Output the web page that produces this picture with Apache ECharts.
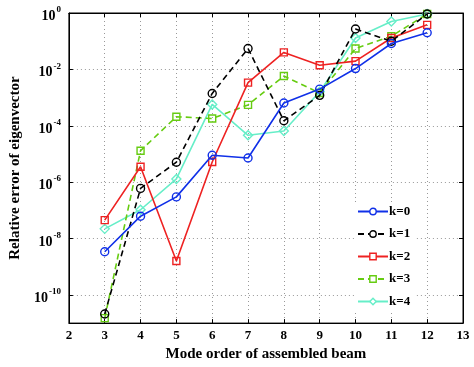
<!DOCTYPE html>
<html><head><meta charset="utf-8">
<script src="https://cdn.jsdelivr.net/npm/echarts@6/dist/echarts.min.js"></script>
<style>html,body{margin:0;padding:0;background:#fff}#c{width:474px;height:367px}</style>
</head><body><div id="c"></div>
<script>
const modes = [3, 4, 5, 6, 7, 8, 9, 10, 11, 12];
const k0 = [3.4e-9, 6.2e-8, 3.0e-7, 9.0e-6, 7.2e-6, 6.4e-4, 2.0e-3, 1.07e-2, 8.3e-2, 0.2];
const k1 = [2.1e-11, 6.0e-7, 5.1e-6, 1.4e-3, 5.5e-2, 1.5e-4, 1.2e-3, 0.27, 0.1, 0.92];
const k2 = [4.5e-8, 3.5e-6, 1.6e-9, 5.2e-6, 3.4e-3, 4.0e-2, 1.4e-2, 1.96e-2, 0.13, 0.38];
const k3 = [1.5e-11, 1.3e-5, 2.1e-4, 1.8e-4, 5.5e-4, 5.8e-3, 1.45e-3, 5.5e-2, 0.15, 0.92];
const k4 = [2.2e-8, 1.05e-7, 1.3e-6, 5.7e-4, 4.6e-5, 6.5e-5, 1.6e-3, 0.13, 0.5, 0.92];
const seriesNames = ['k=0', 'k=1', 'k=2', 'k=3', 'k=4'];
const yTickExponents = [-10, -8, -6, -4, -2, 0];
const xTicks = [2, 3, 4, 5, 6, 7, 8, 9, 10, 11, 12, 13];

const serif = '"Liberation Serif","Times New Roman",serif';
const toPts = arr => modes.map((m, i) => [m, Math.log10(arr[i])]);
const styles = [
  {color: '#1030e8', dash: 'solid', sym: 'circle', size: 8},
  {color: '#000000', dash: [6, 4], sym: 'circle', size: 8},
  {color: '#ee2222', dash: 'solid', sym: 'rect', size: 7},
  {color: '#66cc11', dash: [6, 4], sym: 'rect', size: 7},
  {color: '#66eec8', dash: 'solid', sym: 'diamond', size: 9}
];
const all = [k0, k1, k2, k3, k4];
const series = all.map((arr, i) => ({
  name: seriesNames[i], type: 'line', data: toPts(arr),
  symbol: styles[i].sym, symbolSize: styles[i].size,
  showSymbol: true,
  itemStyle: {color: 'rgba(255,255,255,0)', borderColor: styles[i].color, borderWidth: 1.4},
  lineStyle: {color: styles[i].color, width: 1.6, type: styles[i].dash},
  color: styles[i].color,
  z: 10 - i,
  animation: false
}));

const chart = echarts.init(document.getElementById('c'), null, {renderer: 'canvas'});
chart.setOption({
  animation: false,
  backgroundColor: '#fff',
  grid: {left: 50, right: 11, top: 13, bottom: 36, show: true, borderColor: '#000', borderWidth: 1, backgroundColor: 'transparent'},
  legend: {
    orient: 'vertical', left: 355, top: 203, itemWidth: 30, itemHeight: 8, itemGap: 9.5,
    backgroundColor: '#fff', padding: [2, 4, 2, 2],
    itemStyle: {color: '#fff', borderWidth: 1.4},
    textStyle: {fontFamily: serif, fontWeight: 'bold', fontSize: 13, color: '#000', padding: [0, 0, 0, -4]},
    data: seriesNames
  },
  xAxis: [{
    type: 'value', min: 2, max: 13, interval: 1,
    name: 'Mode order of assembled beam', nameLocation: 'middle', nameGap: 22,
    nameTextStyle: {fontFamily: serif, fontWeight: 'bold', fontSize: 15, color: '#000'},
    axisLine: {show: true, onZero: false, lineStyle: {color: '#000', width: 1}},
    axisTick: {show: true, inside: true, length: 4, lineStyle: {color: '#000'}},
    axisLabel: {fontFamily: serif, fontWeight: 'bold', fontSize: 13, color: '#000', margin: 6,
      customValues: xTicks},
    splitLine: {show: true, lineStyle: {color: '#999', type: [1, 3], width: 1}}
  }, {
    type: 'value', min: 2, max: 13, interval: 1, position: 'top',
    axisLine: {show: true, lineStyle: {color: '#000'}},
    axisTick: {show: true, inside: true, length: 4, lineStyle: {color: '#000'}},
    axisLabel: {show: false}, splitLine: {show: false}
  }],
  yAxis: [{
    type: 'value', min: -11, max: 0,
    name: 'Relative error of eigenvector', nameLocation: 'middle', nameGap: 35,
    nameTextStyle: {fontFamily: serif, fontWeight: 'bold', fontSize: 15, color: '#000'},
    axisLine: {show: true, onZero: false, lineStyle: {color: '#000', width: 1}},
    axisTick: {show: true, inside: true, length: 4, lineStyle: {color: '#000'}, customValues: yTickExponents},
    axisLabel: {
      customValues: yTickExponents, margin: 8,
      formatter: v => '{b|10}{s|' + v + '}',
      rich: {
        b: {fontFamily: serif, fontWeight: 'bold', fontSize: 14, color: '#000', padding: [7, 0, 0, 0]},
        s: {fontFamily: serif, fontWeight: 'bold', fontSize: 9, color: '#000', padding: [0, 0, 6, 1]}
      }
    },
    splitLine: {show: true, lineStyle: {color: '#999', type: [1, 3], width: 1}}
  }, {
    type: 'value', min: -11, max: 0, position: 'right',
    axisLine: {show: true, onZero: false, lineStyle: {color: '#000'}},
    axisTick: {show: true, inside: true, length: 4, lineStyle: {color: '#000'}, customValues: yTickExponents},
    axisLabel: {show: false, customValues: yTickExponents}, splitLine: {show: false}
  }],
  series: series
});
</script></body></html>
